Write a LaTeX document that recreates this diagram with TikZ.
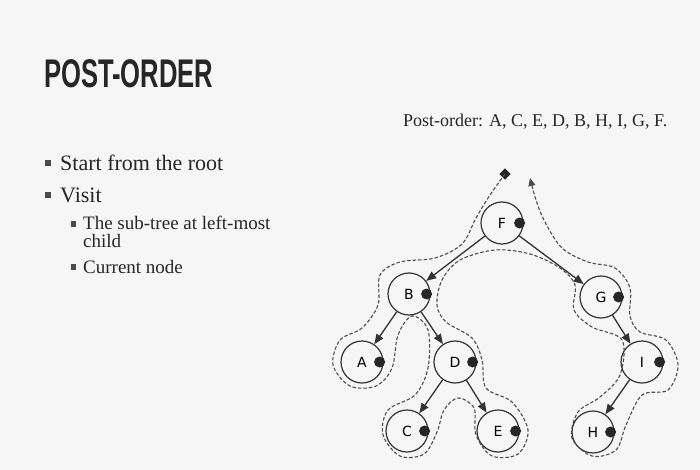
\documentclass[tikz,border=0pt]{standalone}
\usepackage{fontspec}
\setmainfont{Liberation Serif}
\newfontfamily\titlefont{Liberation Sans}
\newfontfamily\nodefont{DejaVu Sans}
\usetikzlibrary{arrows.meta}
\begin{document}
\begin{tikzpicture}[x=1pt,y=-1pt,
  tn/.style={circle,draw=black!80,line width=1.2pt,minimum size=42pt,inner sep=0pt,font=\nodefont\fontsize{14}{14}\selectfont},
  ed/.style={line width=1.3pt,black!80,-{Triangle[length=10pt,width=8pt]}},
  vis/.style={circle,fill=black!85,inner sep=0pt,minimum size=11pt},
  contour/.style={line width=1.1pt,black!70,dash pattern=on 3.5pt off 2pt},
  txt/.style={anchor=west,inner sep=0pt,font=\fontsize{22}{24}\selectfont,text=black!85}]
\fill[gray!7] (0,0) rectangle (700,470);
\useasboundingbox (0,0) rectangle (700,470);
\node[anchor=west,inner sep=0pt,font=\titlefont\bfseries\fontsize{40}{40}\selectfont,text=black!85,xscale=0.64] (title) at (44,74) {POST-ORDER};
\node[txt,font=\fontsize{18}{20}\selectfont] (po) at (403,122) {Post-order: A, C, E, D, B, H, I, G, F.};
\node[txt] (b1) at (60,163) {Start from the root};
\node[txt] (b2) at (60,195) {Visit};
\node[txt,align=left,font=\fontsize{19}{18}\selectfont] (b3) at (83,232) {The sub-tree at left-most\\child};
\node[txt,font=\fontsize{19}{21}\selectfont] (b4) at (83,267) {Current node};
\fill[black!70] (44.5,160) rectangle ++(6,6);
\fill[black!70] (44.5,192) rectangle ++(6,6);
\fill[black!70] (70.5,221) rectangle ++(5.5,5.5);
\fill[black!70] (70.5,264) rectangle ++(5.5,5.5);
% tree
\node[tn] (F) at (502,223) {F};
\node[tn] (B) at (409,294) {B};
\node[tn] (G) at (601,297) {G};
\node[tn] (A) at (362,362) {A};
\node[tn] (D) at (455,362) {D};
\node[tn] (I) at (642,362) {I};
\node[tn] (C) at (407,431) {C};
\node[tn] (E) at (498,431) {E};
\node[tn] (H) at (593,432) {H};
\foreach \n in {F,B,G,A,D,I,C,E,H}{\node[vis] at ([xshift=-4pt]\n.east) {};}
\draw[ed] (F) -- (B);
\draw[ed] (F) -- (G);
\draw[ed] (B) -- (A);
\draw[ed] (B) -- (D);
\draw[ed] (D) -- (C);
\draw[ed] (D) -- (E);
\draw[ed] (G) -- (I);
\draw[ed] (I) -- (H);
\node[fill=black!85,rotate=45,minimum size=8pt,inner sep=0pt] (start) at (505,174) {};
\coordinate (endc) at (530,178);
\draw[contour,-{Triangle[length=8pt,width=7pt]}] plot[smooth,tension=0.55] coordinates {
(505,174) (490,195) (476,218) (462,244) (435,258) (400,262) (380,275) (378,305) (362,328) (340,340) (333,365) (350,386) (376,386) (392,368) (398,335) (412,316) (428,330) (428,368) (415,395) (388,410) (383,435) (400,456) (424,454) (437,432) (444,410) (458,398) (474,408) (476,435) (492,456) (518,454) (528,430) (512,402) (486,388) (482,360) (472,338) (446,322) (437,305) (442,280) (460,260) (495,250) (530,254) (560,268) (575,285) (574,310) (592,327) (622,340) (620,375) (600,397) (578,412) (572,438) (592,456) (616,450) (626,425) (642,395) (668,390) (678,365) (666,340) (640,332) (630,316) (630,288) (615,268) (588,262) (562,248) (545,222) (536,200) (530,178)};
\end{tikzpicture}
\end{document}
